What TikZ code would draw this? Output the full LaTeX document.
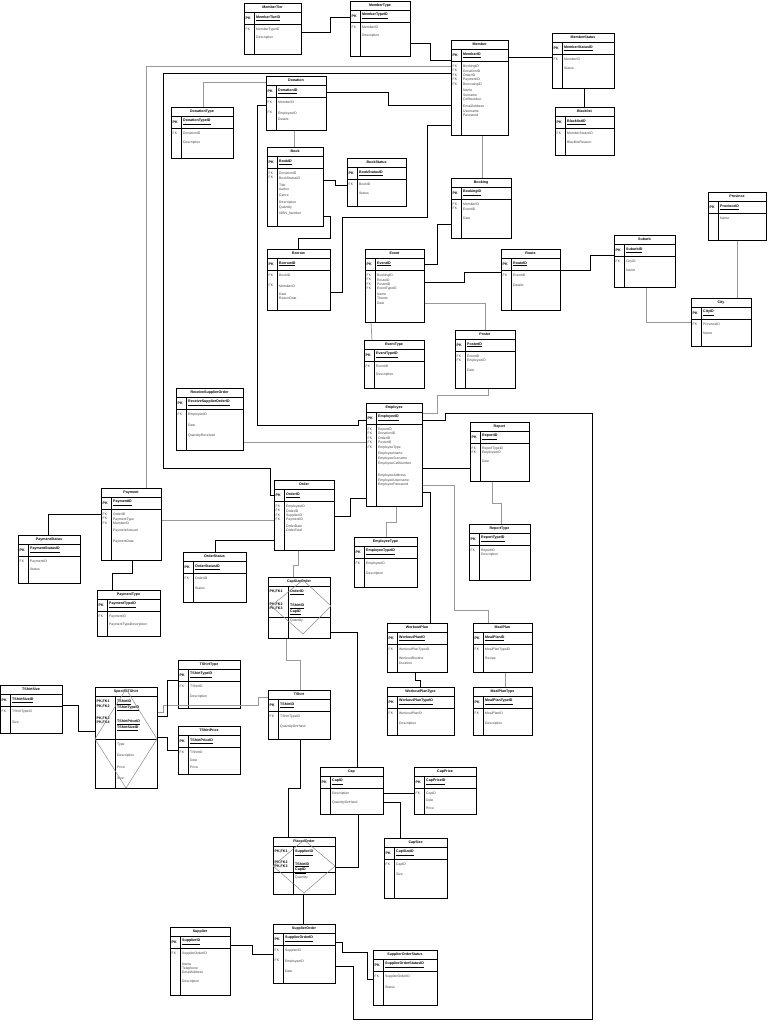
\documentclass[tikz,border=0pt]{standalone}
\usepackage{fontspec}
\setmainfont{Liberation Sans}
\begin{document}
\begin{tikzpicture}[x=1pt,y=-1pt,
  ebox/.style={draw,line width=0.9pt,inner sep=0pt},
  sep/.style={line width=0.7pt},
  tt/.style={font=\fontsize{3.6}{4.4}\selectfont\bfseries,inner sep=0pt},
  attr/.style={font=\fontsize{3.4}{4.4}\selectfont,text=black!75,inner sep=0pt,align=left,anchor=north west},
  ln/.style={line width=0.8pt},
  gl/.style={line width=0.8pt,draw=black!40}]
\useasboundingbox (0,0) rectangle (768,1024);
\fill[white] (0,0) rectangle (768,1024);
\newcommand\E[9]{%
 \node[ebox,minimum width=#4pt,minimum height=#5pt,anchor=north west] (#1) at (#2,#3) {};
 \draw[sep] (#2,#3+9) -- ++(#4,0) (#2,#3+21) -- ++(#4,0) (#2+10,#3+9) -- (#2+10,#3+#5);
 \node[tt] at (#2+#4/2,#3+4.7) {#6};
 \node[tt,anchor=west] at (#2+1.5,#3+15) {PK};
 \node[tt,anchor=west] at (#2+12,#3+15) {\underline{#7}};
 \node[attr] at (#2+1.5,#3+25) {#8};
 \node[attr] at (#2+12,#3+25) {#9};}
\newcommand\M[9]{%
 \node[ebox,minimum width=#4pt,minimum height=#5pt,anchor=north west] (#1) at (#2,#3) {};
 \draw[sep] (#2,#3+9) -- ++(#4,0) (#2,#3+#7) -- ++(#4,0) (#2+20,#3+9) -- (#2+20,#3+#5);
 \node[tt] at (#2+#4/2,#3+4.7) {#6};
 \node[tt,anchor=north west,align=left] at (#2+1.5,#3+13) {#8};
 \node[tt,anchor=north west,align=left] at (#2+22,#3+13) {#9};}

\E{MemberTier}{244}{3}{57}{51}{MemberTier}{MemberTierID}{FK}{MemberTypeID\\[3pt]Description}
\E{MemberType}{350}{1}{60}{55}{MemberType}{MemberTypeID}{FK}{MemberID\\[3pt]Description}
\E{Member}{451}{40}{57}{95}{Member}{MemberID}{FK\\FK\\FK\\FK\\FK}{BookingID\\DonationID\\OrderID\\PaymentID\\BorrowingID\\[2pt]Name\\Surname\\CellNumber\\[3pt]EmailAddress\\Username\\Password}
\E{MemberStatus}{552}{33}{62}{55}{MemberStatus}{MemberStatusID}{FK}{MemberID\\[4pt]Status}
\E{Blacklist}{555}{107}{59}{48}{Blacklist}{BlacklistID}{FK}{MemberStatusID\\[4pt]BlacklistReason}
\E{Donation}{266}{76}{60}{54}{Donation}{DonationID}{FK\\[6pt]FK}{MemberID\\[6pt]EmployeeID\\[2pt]Details}
\E{DonationType}{171}{107}{62}{51}{DonationType}{DonationTypeID}{FK}{DonationID\\[4pt]Description}
\E{Book}{267}{147}{56}{79}{Book}{BookID}{FK\\FK}{DonationID\\BookStatusID\\[3pt]Title\\Author\\[1pt]Genre\\[3pt]Description\\Quantity\\[2pt]ISBN\_Number}
\E{BookStatus}{347}{158}{59}{48}{BookStatus}{BookStatusID}{FK}{BookID\\[4pt]Status}
\E{Booking}{451}{178}{60}{60}{Booking}{BookingID}{FK\\FK}{MemberID\\EventID\\[5pt]Date}
\E{Province}{708}{192}{58}{48}{Province}{ProvinceID}{}{~\\[-2pt]Name}
\E{Suburb}{614}{235}{61}{52}{Suburb}{SuburbID}{FK}{CityID\\[4pt]Name}
\E{City}{691}{298}{60}{48}{City}{CityID}{FK}{ProvinceID\\[4pt]Name}
\E{Borrow}{267}{249}{63}{61}{Borrow}{BorrowID}{FK\\[6pt]FK}{BookID\\[6pt]MemberID\\[4pt]Date\\ReturnDate}
\E{Event}{365}{249}{59}{73}{Event}{EventID}{FK\\FK\\FK\\FK}{BookingID\\RouteID\\PosterID\\EventTypeID\\[1pt]Name\\Theme\\Date}
\E{Route}{501}{249}{59}{61}{Route}{RouteID}{FK}{EventID\\[6pt]Details}
\E{EventType}{364}{340}{60}{48}{EventType}{EventTypeID}{FK}{EventID\\[4pt]Description}
\E{Poster}{455}{330}{60}{58}{Poster}{PosterID}{FK\\FK}{EventID\\EmployeeID\\[5pt]Date}
\E{ReceiveSupplierOrder}{176}{388}{67}{62}{ReceiveSupplierOrder}{ReceiveSupplierOrderID}{FK}{EmployeeID\\[6pt]Date\\[6pt]QuantityReceived}
\E{Employee}{366}{403}{56}{103}{Employee}{EmployeeID}{FK\\FK\\FK\\FK\\FK}{ReportID\\DonationID\\OrderID\\PosterID\\EmployeeType\\[2pt]EmployeeName\\[1pt]EmployeeSurname\\EmployeeCellNumber\\[8pt]EmployeeAddress\\EmployeeUsername\\EmployeePassword}
\E{Report}{470}{422}{59}{59}{Report}{ReportID}{FK\\FK}{ReportTypeID\\EmployeeID\\[4pt]Date}
\E{Payment}{101}{488}{60}{72}{Payment}{PaymentID}{FK\\FK\\FK}{OrderID\\PaymentType\\MemberID\\[3pt]PaymentAmount\\[6pt]PaymentDate}
\E{Order}{274}{480}{60}{70}{Order}{OrderID}{FK\\FK\\FK\\FK}{EmployeeID\\OrderID\\SupplierID\\PaymentID\\[2pt]OrderDate\\OrderTotal}
\E{PaymentStatus}{18}{535}{62}{48}{PaymentStatus}{PaymentStatusID}{FK}{PaymentID\\[4pt]Status}
\E{OrderStatus}{183}{552}{63}{50}{OrderStatus}{OrderStatusID}{FK}{OrderID\\[5pt]Status}
\E{EmployeeType}{354}{537}{63}{50}{EmployeeType}{EmployeeTypeID}{FK}{EmployeeID\\[5pt]Description}
\E{ReportType}{469}{524}{61}{56}{ReportType}{ReportTypeID}{FK}{ReportID\\Description}
\E{PaymentType}{97}{590}{63}{46}{PaymentType}{PaymentTypeID}{FK}{PaymentID\\[4pt]PaymentTypeDescription}
\E{WorkoutPlan}{387}{623}{60}{49}{WorkoutPlan}{WorkoutPlanID}{FK}{WorkoutPlanTypeID\\[4pt]WorkoutRoutine\\[1pt]Duration}
\E{MealPlan}{473}{623}{59}{49}{MealPlan}{MealPlanID}{FK}{MealPlanTypeID\\[4pt]Recipe}
\E{TShirtType}{178}{660}{62}{48}{TShirtType}{TShirtTypeID}{FK}{TShirtID\\[5pt]Description}
\E{TShirtSize}{0}{685}{62}{48}{TShirtSize}{TShirtSizeID}{FK}{TShirtTypeID\\[6pt]Size}
\E{TShirt}{268}{690}{62}{49}{TShirt}{TShirtID}{FK}{TShirtTypeID\\[5pt]QuantityOnHand}
\E{TShirtPrice}{178}{726}{62}{48}{TShirtPrice}{TShirtPriceID}{FK}{TShirtID\\[3pt]Date\\[3pt]Price}
\E{WorkoutPlanType}{387}{687}{67}{48}{WorkoutPlanType}{WorkoutPlanTypeID}{FK}{WorkoutPlanID\\[5pt]Description}
\E{MealPlanType}{473}{687}{59}{48}{MealPlanType}{MealPlanTypeID}{FK}{MealPlanID\\[5pt]Description}
\E{Cap}{320}{767}{63}{47}{Cap}{CapID}{}{Description\\[4pt]QuantityOnHand}
\E{CapPrice}{414}{767}{62}{47}{CapPrice}{CapPriceID}{FK}{CapID\\[3pt]Date\\[3pt]Price}
\E{CapSize}{384}{838}{63}{60}{CapSize}{CapSizeID}{FK}{CapID\\[6pt]Size}
\E{Supplier}{170}{927}{60}{68}{Supplier}{SupplierID}{FK}{SupplierOrderID\\[6pt]Name\\Telephone\\EmailAddress\\[4pt]Description}
\E{SupplierOrder}{273}{924}{62}{59}{SupplierOrder}{SupplierOrderID}{FK\\[6pt]FK}{SupplierID\\[6pt]EmployeeID\\[6pt]Date}
\E{SupplierOrderStatus}{373}{950}{64}{55}{SupplierOrderStatus}{SupplierOrderStatusID}{FK}{SupplierOrderID\\[6pt]Status}

\M{CapSizeOrder}{268}{577}{62}{61}{CapSizeOrder}{40}{PK,FK1\\[8pt]PK,FK2\\PK,FK3}{\underline{OrderID}\\[8pt]\underline{TShirtID}\\\underline{CapID}}
\node[attr] at (290,619) {Quantity};
\draw[black!45,line width=0.5pt] (303,580) -- (331,606) -- (303,634) -- (271,606) -- cycle;
\M{SpecificTShirt}{95}{687}{62}{101}{SpecificTShirt}{52}{PK,FK1\\PK,FK2\\[8pt]PK,FK3\\PK,FK4}{\underline{TShirtID}\\\underline{TShirtTypeID}\\[8pt]\underline{TShirtPriceID}\\\underline{TShirtSizeID}}
\node[attr] at (117,743) {Type\\[7pt]Description\\[7pt]Price\\[7pt]Size};
\draw[black!45,line width=0.5pt] (126,689) -- (157,739) -- (126,788) -- (95,739) -- cycle;
\M{PlacedOrder}{273}{837}{62}{57}{PlacedOrder}{35}{PK,FK1\\[6pt]PK,FK2\\PK,FK3}{\underline{SupplierID}\\[6pt]\underline{TShirtID}\\\underline{CapID}}
\node[attr] at (295,876) {Quantity};
\draw[black!45,line width=0.5pt] (304,840) -- (335,866) -- (304,893) -- (273,866) -- cycle;

% connectors
\draw[ln] (MemberTier.east |- 0,32) -- (330,32) |- (MemberType.west |- 0,17);
\draw[ln] (MemberType.east |- 0,43) -- (430,43) |- (Member.west |- 0,60);
\draw[ln] (Member.east |- 0,57) -- (MemberStatus.west |- 0,57);
\draw[ln] (MemberStatus.south -| 584,0) -- (Blacklist.north -| 584,0);
\draw[gl] (Payment.north -| 146,0) -- (146,66) -- (Member.west |- 0,66);
\draw[ln] (Member.west |- 0,73) -- (163,73) -- (163,468) -- (270,468) |- (Order.west |- 0,495);
\draw[ln] (Donation.east |- 0,92) -- (388,92) |- (Member.west |- 0,105);
\draw[gl] (Donation.west |- 0,82) -| (DonationType.north -| 203,0);
\draw[gl] (Donation.south -| 294,0) -- (Book.north -| 294,0);
\draw[ln] (Book.east |- 0,180) -- (335,180) |- (BookStatus.west |- 0,185);
\draw[ln] (Book.east |- 0,216) -- (330,216) -- (330,238) -| (Borrow.north -| 298,0);
\draw[ln] (Borrow.east |- 0,292) -- (342,292) -- (342,217) -- (427,217) |- (Member.west |- 0,125);
\draw[gl] (Member.south -| 482,0) -- (Booking.north -| 482,0);
\draw[ln] (Booking.west |- 0,224) -- (437,224) |- (Event.east |- 0,264);
\draw[ln] (Event.east |- 0,282) -- (464,282) -- (464,272) -- (Route.west |- 0,272);
\draw[gl] (Event.east |- 0,303) -| (Poster.north -| 485,0);
\draw[gl] (Event.south -| 371,0) -- (EventType.north -| 372,0);
\draw[ln] (Route.east |- 0,270) -- (590,270) |- (Suburb.west |- 0,255);
\draw[gl] (Suburb.south -| 646,0) |- (City.west |- 0,322);
\draw[gl] (Province.south -| 737,0) -- (City.north -| 737,0);
\draw[gl] (Poster.south -| 488,0) -- (488,395) -- (437,395) |- (Employee.east |- 0,413);
\draw[ln] (Donation.west |- 0,105) -- (257,105) -- (257,425) -- (358,425) |- (Employee.west |- 0,420);
\draw[ln] (Employee.east |- 0,420) -- (445,420) -- (445,413) -- (592,413) -- (592,1019) -- (353,1019) |- (SupplierOrder.east |- 0,966);
\draw[ln] (Employee.east |- 0,468) -- (Report.west |- 0,468);
\draw[gl] (Employee.east |- 0,485) -- (454,485) -- (454,610) -| (MealPlan.north -| 488,0);
\draw[ln] (Employee.east |- 0,492) -| (WorkoutPlan.north -| 430,0);
\draw[gl] (Employee.south -| 396,0) -- (396,522) -| (EmployeeType.north -| 386,0);
\draw[gl] (Report.south -| 492,0) -- (492,503) -| (ReportType.north -| 501,0);
\draw[ln] (Order.east |- 0,516) -- (350,516) |- (Employee.west |- 0,498);
\draw[gl] (ReceiveSupplierOrder.east |- 0,442) -- (Employee.west |- 0,442);
\draw[gl] (Order.west |- 0,520) -- (Payment.east |- 0,520);
\draw[ln] (PaymentStatus.north -| 48,0) |- (Payment.west |- 0,514);
\draw[ln] (Payment.south -| 132,0) -- (132,573) -| (PaymentType.north -| 112,0);
\draw[ln] (Order.west |- 0,540) -| (OrderStatus.north -| 215,0);
\draw[gl] (Order.south -| 298,0) -- (298,565) -| (CapSizeOrder.north -| 293,0);
\draw[ln] (CapSizeOrder.east |- 0,632) -| (Cap.north -| 357,0);
\draw[gl] (CapSizeOrder.south -| 286,0) -- (286,660) -| (TShirt.north -| 300,0);
\draw[ln] (TShirt.south -| 300,0) -- (300,788) -| (PlacedOrder.north -| 288,0);
\draw[ln] (Cap.south -| 358,0) |- (PlacedOrder.east |- 0,867);
\draw[ln] (Cap.east |- 0,793) -- (CapPrice.west |- 0,793);
\draw[ln] (Cap.east |- 0,802) -| (CapSize.north -| 400,0);
\draw[ln] (PlacedOrder.south -| 303,0) -- (SupplierOrder.north -| 303,0);
\draw[ln] (Supplier.east |- 0,945) -- (252,945) |- (SupplierOrder.west |- 0,954);
\draw[ln] (SupplierOrder.east |- 0,942) -- (342,942) -- (342,952) -- (367,952) |- (SupplierOrderStatus.west |- 0,979);
\draw[gl] (SpecificTShirt.east |- 0,712) -- (163,712) -- (163,705) -- (258,705) |- (TShirt.west |- 0,697);
\draw[ln] (SpecificTShirt.east |- 0,716) -- (167,716) |- (TShirtType.west |- 0,680);
\draw[ln] (SpecificTShirt.east |- 0,737) -- (167,737) |- (TShirtPrice.west |- 0,750);
\draw[ln] (TShirtSize.east |- 0,705) -- (78,705) |- (SpecificTShirt.west |- 0,731);
\draw[ln] (WorkoutPlan.south -| 415,0) -- (415,680) -| (WorkoutPlanType.north -| 420,0);
\draw[gl] (MealPlan.south -| 505,0) -- (MealPlanType.north -| 505,0);
\end{tikzpicture}
\end{document}
